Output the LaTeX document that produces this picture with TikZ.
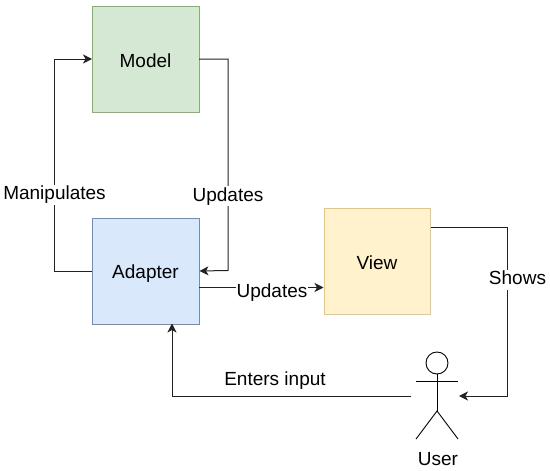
\documentclass[tikz,border=0pt]{standalone}
\usepackage{fontspec}
\setmainfont{Liberation Sans}
\usetikzlibrary{arrows.meta,calc}
\definecolor{mfill}{HTML}{D5E8D4}\definecolor{mline}{HTML}{82B366}
\definecolor{afill}{HTML}{DAE8FC}\definecolor{aline}{HTML}{6C8EBF}
\definecolor{vfill}{HTML}{FFF2CC}\definecolor{vline}{HTML}{E6C875}
\definecolor{wire}{HTML}{222222}
\tikzset{
  x=1pt,y=-1pt,
  every node/.style={font=\fontsize{19}{22}\selectfont,text=black},
  box/.style={minimum width=106.5pt,minimum height=106pt,inner sep=0pt,line width=1pt,draw,anchor=north west},
  conn/.style={draw=wire,line width=1pt,-{Stealth[length=9pt,width=9pt,inset=2.5pt]}},
  lab/.style={fill=white,inner sep=1pt,text height=14pt,text depth=4pt},
  free/.style={inner sep=0pt},
  figure/.style={draw=black,line width=0.9pt}
}
\begin{document}
\begin{tikzpicture}
\useasboundingbox (0,0) rectangle (550,471);
\node[box,fill=mfill,draw=mline] (model) at (92,5.5) {};
\node[free] (modeltext) at (145.5,60.5) {Model};
\node[box,fill=afill,draw=aline] (adapter) at (92,217.5) {};
\node[free] (adaptertext) at (145.5,274) {Adapter};
\node[box,fill=vfill,draw=vline] (view) at (323.5,208) {};
\node[free] (viewtext) at (377,263) {View};
% actor
\coordinate (hip) at (437,411);
\coordinate (armL) at (416,381);
\coordinate (armR) at (458,381);
\coordinate (legL) at (416,439);
\coordinate (legR) at (458,439);
\node[circle,draw=black,line width=0.9pt,minimum size=22pt,inner sep=0pt] (head) at (437,363) {};
\draw[figure] (head.south) -- (hip);
\draw[figure] (armL) -- (armR);
\draw[figure] (legL) -- (hip) -- (legR);
\node[free] (user) at (438,459.5) {User};
% connector ends
\coordinate (adR2) at (199,287.5);
\coordinate (adB) at (172,323.5);
\coordinate (viL) at (323.5,287.5);
\coordinate (viR) at (430.5,227);
\coordinate (acL) at (411,396);
\coordinate (acR) at (459,396);
\coordinate (moL) at (92,59);
\coordinate (moR) at (199,59);
% connectors
\draw[conn] (adapter.west) -| (54,59) -- (moL);
\draw[conn] (moR) -| (228,270.5) -- (adapter.east);
\draw[conn] (adR2) -- (viL);
\draw[conn] (viR) -| (507,396) -- (acR);
\draw[conn] (acL) -| (adB);
% labels
\node[lab] (manip) at (54.5,194.5) {Manipulates};
\node[lab] (upd1) at (228,196) {Updates};
\node[lab] (upd2) at (272,292.5) {Updates};
\node[lab] (shows) at (517.5,279.5) {Shows};
\node[free] (enters) at (275,380.5) {Enters input};
\end{tikzpicture}
\end{document}
